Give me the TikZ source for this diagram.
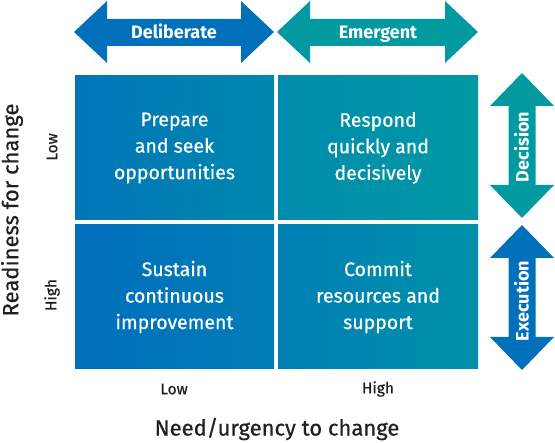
\documentclass[tikz,border=0pt]{standalone}
\usepackage{fontspec}
\setmainfont{Fira Sans}
\newfontfamily\medfont{Fira Sans}[FakeBold=0.6]
\usetikzlibrary{positioning}
\definecolor{deepblue}{RGB}{0,112,186}
\definecolor{seateal}{RGB}{0,154,160}
\definecolor{inkgrey}{RGB}{35,31,32}
% cell shades, blue at bottom left to teal at top right
\definecolor{prepL}{RGB}{0,117,185}
\definecolor{prepR}{RGB}{0,136,174}
\definecolor{respL}{RGB}{0,139,172}
\definecolor{respR}{RGB}{0,153,163}
\definecolor{sustL}{RGB}{0,110,189}
\definecolor{sustR}{RGB}{0,126,181}
\definecolor{commL}{RGB}{0,127,181}
\definecolor{commR}{RGB}{0,145,168}

\tikzset{
  cell/.style={minimum width=199pt, minimum height=144pt, inner sep=0pt,
    text=white, align=center, font=\medfont\fontsize{19.5}{26.5}\selectfont},
  armlabel/.style={text=white, anchor=base, font=\fontsize{18}{20}\selectfont\bfseries},
  ticklabel/.style={text=inkgrey, font=\medfont\fontsize{15.5}{17}\selectfont},
  axislabel/.style={text=inkgrey, font=\medfont\fontsize{22}{26}\selectfont}
}

% double arrows: from, to, colour
\newcommand\harrow[3]{%
  \fill[#3] (#1,32) -- (#1+33,1) -- (#1+33,19) -- (#2-33,19) -- (#2-33,1)
    -- (#2,32) -- (#2-33,63) -- (#2-33,46) -- (#1+33,46) -- (#1+33,63) -- cycle;}
\newcommand\varrow[3]{%
  \fill[#3] (522,#1) -- (554,#1+33) -- (535.5,#1+33) -- (535.5,#2-33)
    -- (554,#2-33) -- (522,#2) -- (490,#2-33) -- (508.5,#2-33)
    -- (508.5,#1+33) -- (490,#1+33) -- cycle;}

\begin{document}
\begin{tikzpicture}[x=1pt, y=-1pt]
  \useasboundingbox (0,0) rectangle (555,443);

  % top arrows
  \harrow{74}{274}{deepblue}
  \harrow{277}{478}{seateal}
  \node[armlabel] (delib) at (174,38.5) {Deliberate};
  \node[armlabel] (emerg) at (378,38.5) {Emergent};

  % side arrows
  \varrow{73}{218}{seateal}
  \varrow{225}{370}{deepblue}
  \node[armlabel, rotate=90] (decis) at (528.5,147) {Decision};
  \node[armlabel, rotate=90] (exec) at (528.5,301) {Execution};

  % the four cells
  \node[cell, left color=prepL, right color=prepR] (prep) at (174.5,148)
    {Prepare\\and seek\\opportunities};
  \node[cell, minimum width=200pt, left color=respL, right color=respR] (resp)
    at (378,148) {Respond\\quickly and\\decisively};
  \node[cell, left color=sustL, right color=sustR] (sust) at (174.5,297)
    {Sustain\\continuous\\improvement};
  \node[cell, minimum width=200pt, left color=commL, right color=commR] (comm)
    at (378,297) {Commit\\resources and\\support};

  % axes
  \node[ticklabel, rotate=90] (rlow) at (52,147) {Low};
  \node[ticklabel, rotate=90] (rhigh) at (52,295) {High};
  \node[ticklabel] (nlow) at (174,389) {Low};
  \node[ticklabel] (nhigh) at (378,389) {High};
  \node[axislabel, rotate=90] (ready) at (12,210) {Readiness for change};
  \node[axislabel] (need) at (277,429) {Need/urgency to change};
\end{tikzpicture}
\end{document}
